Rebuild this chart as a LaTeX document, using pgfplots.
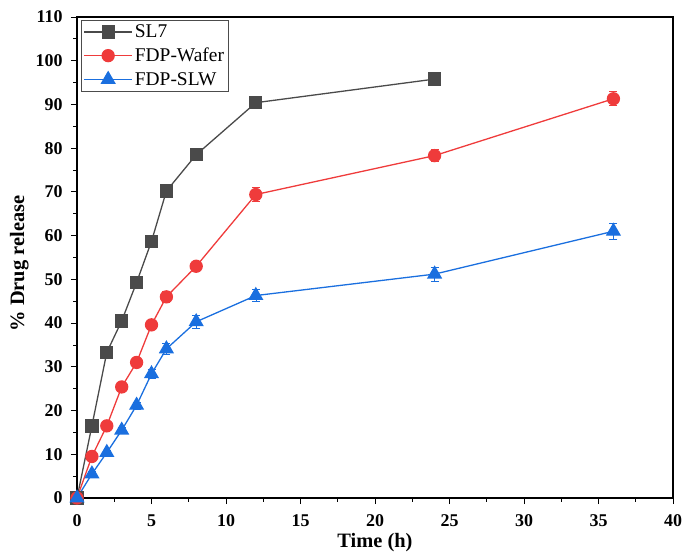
\documentclass[border=0pt]{standalone}
\usepackage{pgfplots}
\pgfplotsset{compat=1.18}
\usepackage{fontspec}
\setmainfont{Liberation Serif}
\definecolor{cgrey}{RGB}{74,74,74}
\definecolor{cred}{RGB}{239,59,59}
\definecolor{cblue}{RGB}{26,111,223}
\begin{document}
\begin{tikzpicture}
\begin{axis}[
  name=ax,
  scale only axis,
  width=596bp, height=481bp,
  xmin=0, xmax=40, ymin=0, ymax=110,
  xtick={0,5,...,40}, ytick={0,10,...,110},
  minor x tick num=1, minor y tick num=1,
  tick pos=left, tick align=outside,
  major tick length=6bp, minor tick length=3.5bp,
  axis line style={line width=1.1pt},
  every tick/.style={black, line width=0.9pt},
  /pgf/number format/assume math mode=true,
  ticklabel style={font=\fontsize{18}{18}\selectfont\bfseries},
  xticklabel style={yshift=-7bp},
  yticklabel style={xshift=-5bp},
  xlabel={Time (h)}, ylabel={\% Drug release},
  label style={font=\fontsize{20.5}{20.5}\selectfont\bfseries},
  xlabel style={yshift=0bp},
  ylabel style={yshift=0bp, xshift=-6bp},
  legend style={font=\fontsize{19.5}{19.5}\selectfont, draw=black!70, line width=0.7pt,
    inner sep=2.5bp, row sep=5bp, at={(0.006,0.994)}, anchor=north west},
  legend cell align=left,
  legend image code/.code={
    \draw[mark repeat=2,mark phase=2] plot coordinates {(0cm,0cm) (0.85cm,0cm) (1.7cm,0cm)};},
  error bars/y dir=both, error bars/y explicit,
  error bars/error bar style={line width=0.6pt},
  error bars/error mark options={rotate=90, mark size=4bp, line width=0.6pt},
]
\addplot[cgrey, line width=1.3pt, mark=square*, mark size=6bp, mark options={fill=cgrey, draw=cgrey}]
 coordinates {
 (0,0) +- (0,0)
 (1,16.5) +- (0,0.5)
 (2,33.3) +- (0,0.6)
 (3,40.5) +- (0,0.6)
 (4,49.3) +- (0,0.7)
 (5,58.7) +- (0,1.0)
 (6,70.2) +- (0,0.7)
 (8,78.5) +- (0,1.0)
 (12,90.4) +- (0,0.8)
 (24,95.8) +- (0,1.2)
 };
\addlegendentry{SL7}
\addplot[cred, line width=1.3pt, mark=*, mark size=6bp, mark options={fill=cred, draw=cred}]
 coordinates {
 (0,0) +- (0,0)
 (1,9.5) +- (0,0.6)
 (2,16.5) +- (0,0.6)
 (3,25.4) +- (0,0.6)
 (4,31.0) +- (0,0.7)
 (5,39.6) +- (0,1.0)
 (6,46.0) +- (0,1.2)
 (8,53.0) +- (0,1.2)
 (12,69.4) +- (0,1.6)
 (24,78.3) +- (0,1.4)
 (36,91.3) +- (0,1.6)
 };
\addlegendentry{FDP-Wafer}
\addplot[cblue, line width=1.3pt, mark=triangle*, mark size=7.5bp, mark options={fill=cblue, draw=cblue}]
 coordinates {
 (0,0) +- (0,0)
 (1,5.5) +- (0,0.6)
 (2,10.4) +- (0,0.6)
 (3,15.5) +- (0,0.6)
 (4,21.2) +- (0,0.8)
 (5,28.4) +- (0,1.0)
 (6,34.1) +- (0,1.2)
 (8,40.3) +- (0,1.4)
 (12,46.3) +- (0,1.4)
 (24,51.2) +- (0,1.6)
 (36,61.0) +- (0,1.8)
 };
\addlegendentry{FDP-SLW}
\end{axis}
\pgfresetboundingbox
\path[use as bounding box] ([shift={(-77bp,-59bp)}]ax.south west) rectangle ([shift={(12bp,17bp)}]ax.north east);
\end{tikzpicture}
\end{document}
